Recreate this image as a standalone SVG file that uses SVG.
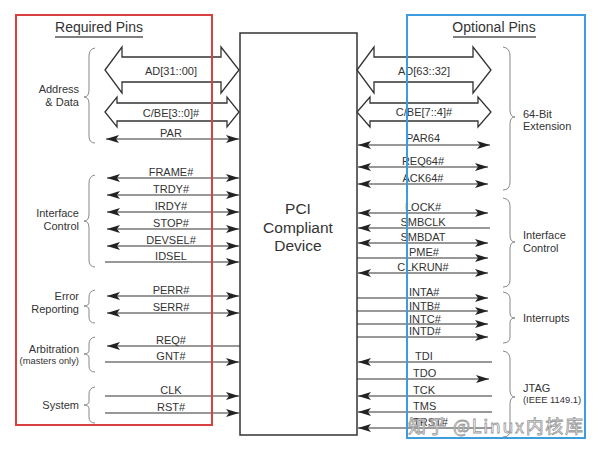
<svg xmlns="http://www.w3.org/2000/svg" width="600" height="451" viewBox="0 0 600 451">
<defs>
<style>
.t{font-family:"Liberation Sans",Arial,sans-serif;font-size:11px;fill:#333}
.c{text-anchor:middle}
.e{text-anchor:end}
.sm{font-size:9.4px}
.ttl{font-family:"Liberation Sans",Arial,sans-serif;font-size:14px;fill:#333;text-anchor:middle}
.big{font-family:"Liberation Sans",Arial,sans-serif;font-size:15.5px;fill:#333;text-anchor:middle}
.w{stroke:#333;stroke-width:1.2;fill:none}
.b{marker-start:url(#ah);marker-end:url(#ah)}
.r{marker-end:url(#ah)}
.fat{fill:#fff;stroke:#333;stroke-width:1.3;stroke-linejoin:miter}
.br{fill:none;stroke:#888;stroke-width:1}
</style>
<marker id="ah" viewBox="0 0 13 8" refX="13" refY="4" markerWidth="13" markerHeight="8" markerUnits="userSpaceOnUse" orient="auto-start-reverse"><path d="M0,0 L13,4 L0,8 L3,4 z" fill="#222"/></marker>
</defs>
<rect width="600" height="451" fill="#fff"/>

<g id="device">
<rect x="240" y="33" width="117" height="402" fill="#fff" stroke="#333" stroke-width="1.5"/>
<text class="big" x="298" y="214">PCI</text>
<text class="big" x="298" y="233">Compliant</text>
<text class="big" x="298" y="251">Device</text>
</g>

<g id="connectors">
<polygon class="fat" points="105,70 122,47 122,57 221,57 221,47 239,70 221,93 221,82 122,82 122,93"/>
<polygon class="fat" points="105,112 117,97 117,103 227,103 227,97 239,112 227,127 227,121 117,121 117,127"/>
<polygon class="fat" points="357,70 374,47 374,57 473,57 473,47 491,70 473,93 473,82 374,82 374,93"/>
<polygon class="fat" points="357,112 370,97 370,103 478,103 478,97 491,112 478,127 478,121 370,121 370,127"/>
<line class="w b" x1="106" y1="139" x2="239" y2="139"/>
<line class="w b" x1="107" y1="178" x2="239" y2="178"/>
<line class="w b" x1="107" y1="195" x2="239" y2="195"/>
<line class="w b" x1="107" y1="212" x2="239" y2="212"/>
<line class="w b" x1="107" y1="229" x2="239" y2="229"/>
<line class="w b" x1="107" y1="246" x2="239" y2="246"/>
<line class="w r" x1="105" y1="262" x2="239" y2="262"/>
<line class="w b" x1="107" y1="296" x2="239" y2="296"/>
<line class="w b" x1="107" y1="313" x2="239" y2="313"/>
<line class="w r" x1="240" y1="346" x2="107" y2="346"/>
<line class="w r" x1="105" y1="362" x2="239" y2="362"/>
<line class="w r" x1="105" y1="396" x2="239" y2="396"/>
<line class="w r" x1="105" y1="413" x2="239" y2="413"/>
<line class="w b" x1="358" y1="145" x2="490" y2="145"/>
<line class="w b" x1="358" y1="167" x2="488" y2="167"/>
<line class="w b" x1="358" y1="184" x2="488" y2="184"/>
<line class="w b" x1="358" y1="213" x2="488" y2="213"/>
<line class="w r" x1="490" y1="228" x2="358" y2="228"/>
<line class="w b" x1="358" y1="243" x2="488" y2="243"/>
<line class="w r" x1="357" y1="258" x2="488" y2="258"/>
<line class="w b" x1="358" y1="273" x2="488" y2="273"/>
<line class="w r" x1="357" y1="298" x2="488" y2="298"/>
<line class="w r" x1="357" y1="311" x2="488" y2="311"/>
<line class="w r" x1="357" y1="324" x2="488" y2="324"/>
<line class="w r" x1="357" y1="337" x2="488" y2="337"/>
<line class="w r" x1="492" y1="362" x2="358" y2="362"/>
<line class="w r" x1="357" y1="379" x2="489" y2="379"/>
<line class="w r" x1="492" y1="396" x2="358" y2="396"/>
<line class="w r" x1="492" y1="412" x2="358" y2="412"/>
<line class="w r" x1="492" y1="428" x2="358" y2="428"/>
</g>

<g id="signal-labels">
<text class="t c" x="171" y="75">AD[31::00]</text>
<text class="t c" x="171" y="117">C/BE[3::0]#</text>
<text class="t c" x="171" y="137">PAR</text>
<text class="t c" x="171" y="176">FRAME#</text>
<text class="t c" x="171" y="193">TRDY#</text>
<text class="t c" x="171" y="210">IRDY#</text>
<text class="t c" x="171" y="227">STOP#</text>
<text class="t c" x="171" y="244">DEVSEL#</text>
<text class="t c" x="171" y="260">IDSEL</text>
<text class="t c" x="171" y="294">PERR#</text>
<text class="t c" x="171" y="311">SERR#</text>
<text class="t c" x="171" y="344">REQ#</text>
<text class="t c" x="171" y="360">GNT#</text>
<text class="t c" x="171" y="394">CLK</text>
<text class="t c" x="171" y="411">RST#</text>
<text class="t c" x="424" y="75">AD[63::32]</text>
<text class="t c" x="424" y="116">C/BE[7::4]#</text>
<text class="t c" x="423" y="142">PAR64</text>
<text class="t c" x="423" y="165">REQ64#</text>
<text class="t c" x="423" y="182">ACK64#</text>
<text class="t c" x="423" y="211">LOCK#</text>
<text class="t c" x="423" y="226">SMBCLK</text>
<text class="t c" x="423" y="241">SMBDAT</text>
<text class="t c" x="424" y="256">PME#</text>
<text class="t c" x="423" y="271">CLKRUN#</text>
<text class="t" x="409" y="296">INTA#</text>
<text class="t" x="409" y="310">INTB#</text>
<text class="t" x="409" y="323">INTC#</text>
<text class="t" x="409" y="335">INTD#</text>
<text class="t" x="415" y="360">TDI</text>
<text class="t" x="413" y="377">TDO</text>
<text class="t" x="413" y="394">TCK</text>
<text class="t" x="413" y="410">TMS</text>
<text class="t" x="413" y="426">TRST#</text>
</g>

<g id="groups-left">
<path class="br" d="M95,48 Q89,49 89,56 L89,90 Q89,97 84,97 Q89,97 89,104 L89,136 Q89,143 95,143"/>
<path class="br" d="M95,175 Q89,176 89,183 L89,214 Q89,221 84,221 Q89,221 89,228 L89,260 Q89,267 95,267"/>
<path class="br" d="M95,290 Q89,291 89,297 L89,302 Q89,306 84,306 Q89,306 89,310 L89,317 Q89,323 95,323"/>
<path class="br" d="M95,337 Q89,338 89,344 L89,350 Q89,354 84,354 Q89,354 89,358 L89,366 Q89,372 95,372"/>
<path class="br" d="M95,387 Q89,388 89,394 L89,401 Q89,405 84,405 Q89,405 89,409 L89,417 Q89,423 95,423"/>
<text class="t e" x="79" y="92.5">Address</text>
<text class="t e" x="79" y="105.5">&amp; Data</text>
<text class="t e" x="79" y="217">Interface</text>
<text class="t e" x="79" y="230">Control</text>
<text class="t e" x="79" y="300">Error</text>
<text class="t e" x="79" y="313">Reporting</text>
<text class="t e" x="79" y="353">Arbitration</text>
<text class="t e sm" x="79" y="364">(masters only)</text>
<text class="t e" x="79" y="409">System</text>
</g>

<g id="groups-right">
<path class="br" d="M503,47 Q510,48 510,56 L510,110 Q510,117 515,117 Q510,117 510,124 L510,182 Q510,190 503,190"/>
<path class="br" d="M503,198 Q510,199 510,206 L510,235 Q510,242 515,242 Q510,242 510,249 L510,280 Q510,287 503,287"/>
<path class="br" d="M503,292 Q510,293 510,299 L510,313 Q510,318 515,318 Q510,318 510,323 L510,337 Q510,343 503,343"/>
<path class="br" d="M503,351 Q510,352 510,359 L510,390 Q510,397 515,397 Q510,397 510,404 L510,430 Q510,437 503,437"/>
<text class="t" x="523" y="118">64-Bit</text>
<text class="t" x="523" y="130">Extension</text>
<text class="t" x="523" y="239">Interface</text>
<text class="t" x="523" y="252">Control</text>
<text class="t" x="523" y="322">Interrupts</text>
<text class="t" x="523" y="392">JTAG</text>
<text class="t sm" x="523" y="403">(IEEE 1149.1)</text>
</g>

<g id="required-pins">
<rect x="16" y="15" width="196" height="410" fill="none" stroke="#d9403f" stroke-width="2"/>
<text class="ttl" x="99" y="32">Required Pins</text>
<line x1="55" y1="37" x2="143" y2="37" stroke="#555" stroke-width="1.5"/>
</g>

<g id="optional-pins">
<rect x="407" y="15" width="178" height="423" fill="none" stroke="#3d9be0" stroke-width="2"/>
<text class="ttl" x="494" y="32">Optional Pins</text>
<line x1="453" y1="37" x2="536" y2="37" stroke="#555" stroke-width="1.5"/>
</g>

<text x="408" y="433" font-family="'Noto Sans CJK SC',sans-serif" font-size="18" fill="#fff" fill-opacity="0.85" stroke="#999" stroke-width="0.8" textLength="175" lengthAdjust="spacing">知乎 @Linux内核库</text>
</svg>
